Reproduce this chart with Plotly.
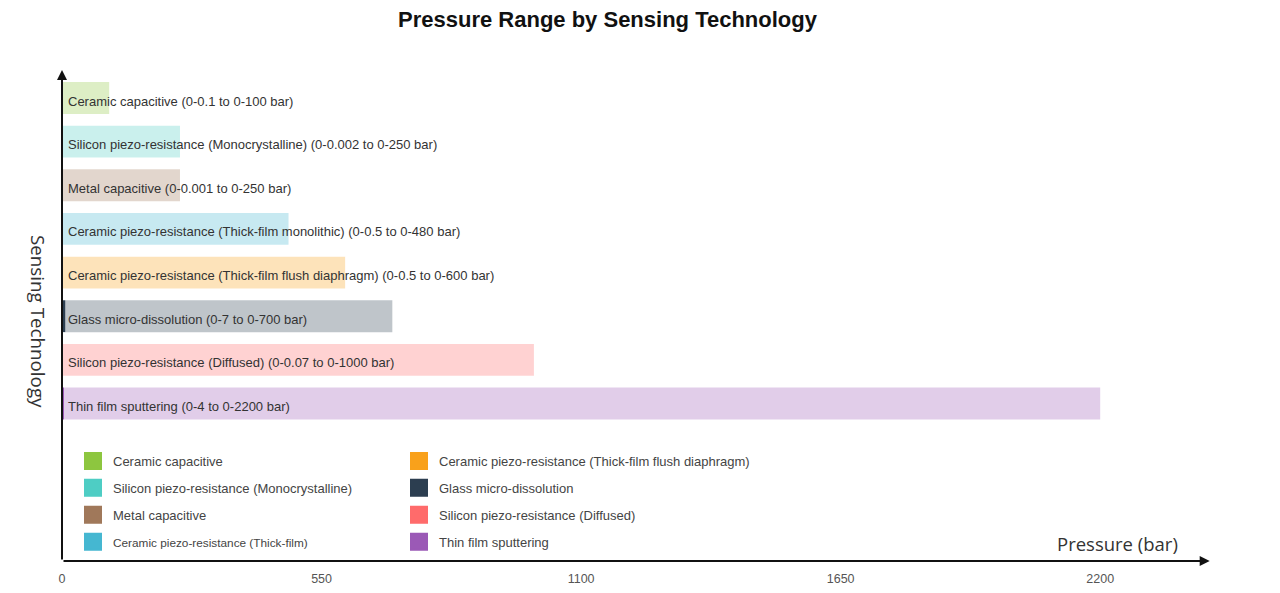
import plotly.graph_objects as go

technologies = [
    "Ceramic capacitive",
    "Silicon piezo-resistance (Monocrystalline)",
    "Metal capacitive",
    "Ceramic piezo-resistance (Thick-film monolithic)",
    "Ceramic piezo-resistance (Thick-film flush diaphragm)",
    "Glass micro-dissolution",
    "Silicon piezo-resistance (Diffused)",
    "Thin film sputtering",
]
legend_names = [
    "Ceramic capacitive",
    "Silicon piezo-resistance (Monocrystalline)",
    "Metal capacitive",
    "Ceramic piezo-resistance (Thick-film)",
    "Ceramic piezo-resistance (Thick-film flush diaphragm)",
    "Glass micro-dissolution",
    "Silicon piezo-resistance (Diffused)",
    "Thin film sputtering",
]
min_pressure = [0.1, 0.002, 0.001, 0.5, 0.5, 7, 0.07, 4]
max_pressure = [100, 250, 250, 480, 600, 700, 1000, 2200]
colors = ["#8DC63F", "#4ECDC4", "#A0785A", "#45B7D1",
          "#F9A11B", "#2C3E50", "#FF6B6B", "#9B59B6"]
x_ticks = [0, 550, 1100, 1650, 2200]


def rgba(hex_color, a):
    h = hex_color.lstrip("#")
    r, g, b = int(h[0:2], 16), int(h[2:4], 16), int(h[4:6], 16)
    return f"rgba({r},{g},{b},{a})"


ypos = list(range(len(technologies)))

fig = go.Figure()
fig.add_trace(go.Bar(
    x=min_pressure, y=ypos, orientation="h", width=0.73,
    marker=dict(color=colors, line=dict(width=0)),
    showlegend=False, hoverinfo="skip",
))
fig.add_trace(go.Bar(
    x=[mx - mn for mn, mx in zip(min_pressure, max_pressure)],
    base=min_pressure, y=ypos, orientation="h", width=0.73,
    marker=dict(color=[rgba(c, 0.3) for c in colors], line=dict(width=0)),
    showlegend=False, hoverinfo="skip",
))

# legend entries (two columns -> two legends)
for i, (name, col) in enumerate(zip(legend_names, colors)):
    disp = name
    if i == 3:
        disp = f'<span style="font-size:11.8px">{name}</span>'
    fig.add_trace(go.Scatter(
        x=[None], y=[None], mode="markers", name=disp,
        marker=dict(symbol="square", size=16, color=col,
                    line=dict(color=col, width=2)),
        legend="legend" if i < 4 else "legend2",
        legendgroup=f"g{i}",
    ))

PL, PT, PW, PH = 62, 75, 1142, 486


def px_x(px):
    return (px - PL) / PW


def px_y(py):
    return (PT + PH - py) / PH


annotations = []
for i, (tech, mn, mx) in enumerate(zip(technologies, min_pressure, max_pressure)):
    annotations.append(dict(
        x=0, y=i, xref="x", yref="y", xanchor="left", yanchor="middle",
        xshift=4, yshift=-3, showarrow=False,
        text=f"{tech} (0-{mn:g} to 0-{mx:g} bar)",
        font=dict(family="Liberation Sans, Arial", size=13, color="#333"),
    ))

# axis arrows
annotations.append(dict(
    x=1.005, y=0, xref="x domain", yref="y domain",
    ax=0, ay=0, axref="x domain", ayref="y domain",
    text="", showarrow=True, arrowhead=2, arrowsize=1, arrowwidth=2,
    arrowcolor="#111",
))
annotations.append(dict(
    x=0, y=px_y(70), xref="x domain", yref="y domain",
    ax=0, ay=0, axref="x domain", ayref="y domain",
    text="", showarrow=True, arrowhead=2, arrowsize=1, arrowwidth=2,
    arrowcolor="#111",
))
# axis titles
annotations.append(dict(
    x=px_x(1117), y=px_y(543), xref="x domain", yref="y domain", showarrow=False,
    xanchor="center", yanchor="middle", text="Pressure (bar)",
    font=dict(family="Open Sans", size=18.5, color="#333"),
))
annotations.append(dict(
    x=px_x(38), y=px_y(321), xref="x domain", yref="y domain",
    xanchor="center", yanchor="middle",
    showarrow=False, textangle=90, text="Sensing Technology",
    font=dict(family="Open Sans", size=18.8, color="#333"),
))

# bar centre 0 -> 98 px, spacing 43.64 px
sp = 43.64
y_top = (PT - 98) / sp
y_bot = (PT + PH - 98) / sp

fig.update_layout(
    width=1280, height=593,
    margin=dict(l=PL, r=1280 - PL - PW, t=PT, b=593 - PT - PH),
    paper_bgcolor="white", plot_bgcolor="white",
    title=dict(text="<b>Pressure Range by Sensing Technology</b>",
               x=607.5 / 1280, xanchor="center", y=1 - 19 / 593, yanchor="middle",
               font=dict(family="Liberation Sans, Arial", size=22, color="#111")),
    barmode="overlay",
    xaxis=dict(range=[0, 2420], tickvals=x_ticks, showgrid=False, zeroline=False,
               showline=False, ticks="", ticklabelstandoff=8, automargin=False,
               tickfont=dict(family="Liberation Sans, Arial", size=12.5, color="#555")),
    yaxis=dict(range=[y_bot, y_top], showgrid=False, zeroline=False, automargin=False,
               showline=False, showticklabels=False, ticks=""),
    legend=dict(x=px_x(73), y=px_y(446), xanchor="left", yanchor="top",
                orientation="v", tracegroupgap=7, bgcolor="rgba(0,0,0,0)",
                font=dict(family="Liberation Sans, Arial", size=13, color="#444")),
    legend2=dict(x=px_x(399), y=px_y(446), xanchor="left", yanchor="top",
                 orientation="v", tracegroupgap=7, bgcolor="rgba(0,0,0,0)",
                 font=dict(family="Liberation Sans, Arial", size=13, color="#444")),
    annotations=annotations,
    showlegend=True,
)

fig.write_html("out.html")
